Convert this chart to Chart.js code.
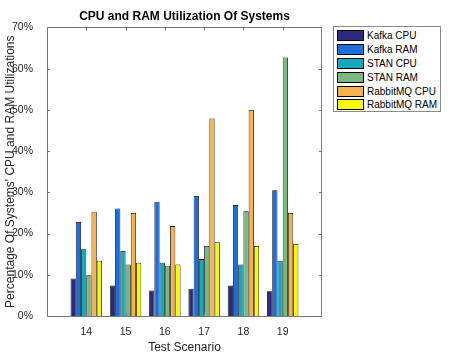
<!DOCTYPE html>
<html>
<head>
<meta charset="utf-8">
<script src="https://cdn.jsdelivr.net/npm/chart.js@4/dist/chart.umd.min.js"></script>
<style>
  html, body { margin: 0; padding: 0; background: #fff; }
  #wrap { position: relative; width: 474px; height: 355px; }
  #legend {
    position: absolute; left: 333px; top: 26px; width: 108px;
    border: 1px solid #8a8a8a; background: #fff;
    font-family: "Liberation Sans", Arial, sans-serif; font-size: 10px; color: #000;
    padding: 2px 0 1px 0; box-sizing: border-box; height: 86px;
  }
  .item { display: flex; align-items: center; height: 13.8px; margin-left: 3px; }
  .sw { width: 25px; height: 9px; border: 1px solid #000; margin-right: 3px; flex: none; }
</style>
</head>
<body>
<div id="wrap">
  <canvas id="c" width="474" height="355"></canvas>
  <div id="legend"></div>
</div>
<script>
const categories = ['14', '15', '16', '17', '18', '19'];
const seriesNames = ['Kafka CPU', 'Kafka RAM', 'STAN CPU', 'STAN RAM', 'RabbitMQ CPU', 'RabbitMQ RAM'];
const kafkaCPU    = [9.1, 7.4, 6.2, 6.6, 7.4, 6.0];
const kafkaRAM    = [22.8, 26.1, 27.7, 29.1, 26.9, 30.5];
const stanCPU     = [16.2, 15.8, 12.9, 13.8, 12.5, 13.4];
const stanRAM     = [9.9, 12.5, 12.2, 17.0, 25.4, 62.7];
const rabbitCPU   = [25.3, 25.0, 21.8, 47.9, 50.0, 25.0];
const rabbitRAM   = [13.4, 12.9, 12.5, 17.9, 17.0, 17.5];
const yTicks      = [0, 10, 20, 30, 40, 50, 60, 70];
const colors = ['#2c2a7c', '#1a6fdc', '#15a8c0', '#79b97e', '#f4b350', '#f8f80d'];

// axis runs from 13 to 20: pad categories with empty ends
const labels = ['13', ...categories, '20'];
const pad = arr => [null, ...arr, null];
const allSeries = [kafkaCPU, kafkaRAM, stanCPU, stanRAM, rabbitCPU, rabbitRAM];

const datasets = allSeries.map((vals, i) => ({
  label: seriesNames[i],
  data: pad(vals),
  backgroundColor: colors[i],
  borderColor: '#000',
  borderWidth: 0.8,
  categoryPercentage: 0.8,
  barPercentage: 1.0
}));

const FONT = '"Liberation Sans", Arial, sans-serif';

const boxPlugin = {
  id: 'boxTicks',
  afterDraw(chart) {
    const { ctx, chartArea: a, scales } = chart;
    ctx.save();
    ctx.strokeStyle = '#7a7a7a';
    ctx.lineWidth = 1;
    ctx.strokeRect(Math.round(a.left) + 0.5, Math.round(a.top) + 0.5,
                   Math.round(a.right - a.left) - 1, Math.round(a.bottom - a.top));
    const L = 3;
    ctx.beginPath();
    categories.forEach((c, i) => {
      const x = Math.round(scales.x.getPixelForValue(i + 1)) + 0.5;
      ctx.moveTo(x, a.bottom); ctx.lineTo(x, a.bottom - L);
      ctx.moveTo(x, a.top); ctx.lineTo(x, a.top + L);
    });
    yTicks.forEach(v => {
      const y = Math.round(scales.y.getPixelForValue(v)) + 0.5;
      ctx.moveTo(a.left, y); ctx.lineTo(a.left + L, y);
      ctx.moveTo(a.right, y); ctx.lineTo(a.right - L, y);
    });
    ctx.stroke();
    ctx.restore();
  }
};

new Chart(document.getElementById('c'), {
  type: 'bar',
  data: { labels, datasets },
  options: {
    responsive: false,
    animation: false,
    layout: { padding: { left: 0, right: 152, top: 0, bottom: 0 } },
    plugins: {
      legend: { display: false },
      tooltip: { enabled: false },
      title: {
        display: true,
        fullSize: false,
        text: 'CPU and RAM Utilization Of Systems',
        color: '#000',
        font: { family: FONT, size: 12, weight: 'bold' },
        padding: { top: 9, bottom: 4 }
      }
    },
    scales: {
      x: {
        offset: false,
        grid: { display: false },
        border: { display: false },
        ticks: {
          color: '#262626',
          font: { family: FONT, size: 10.5 },
          padding: 2,
          maxRotation: 0,
          autoSkip: false,
          callback: (v, i) => (i === 0 || i === labels.length - 1) ? '' : labels[i]
        },
        title: {
          display: true, text: 'Test Scenario', color: '#262626',
          font: { family: FONT, size: 12 }, padding: { top: 4, bottom: 0 }
        },
        afterFit: s => { s.height = 39; }
      },
      y: {
        min: 0, max: 70,
        grid: { display: false },
        border: { display: false },
        afterBuildTicks: s => { s.ticks = yTicks.map(v => ({ value: v })); },
        ticks: {
          color: '#262626',
          font: { family: FONT, size: 10.5 },
          padding: 6,
          callback: v => v + '%'
        },
        title: {
          display: true, text: "Percentage Of Systems' CPU and RAM Utilizations", color: '#262626',
          font: { family: FONT, size: 12 }, padding: { top: 3, bottom: 0 }
        },
        afterFit: s => { s.width = 47; }
      }
    }
  },
  plugins: [boxPlugin]
});

const leg = document.getElementById('legend');
seriesNames.forEach((n, i) => {
  const d = document.createElement('div');
  d.className = 'item';
  d.innerHTML = '<span class="sw" style="background:' + colors[i] + '"></span><span>' + n + '</span>';
  leg.appendChild(d);
});
</script>
</body>
</html>
